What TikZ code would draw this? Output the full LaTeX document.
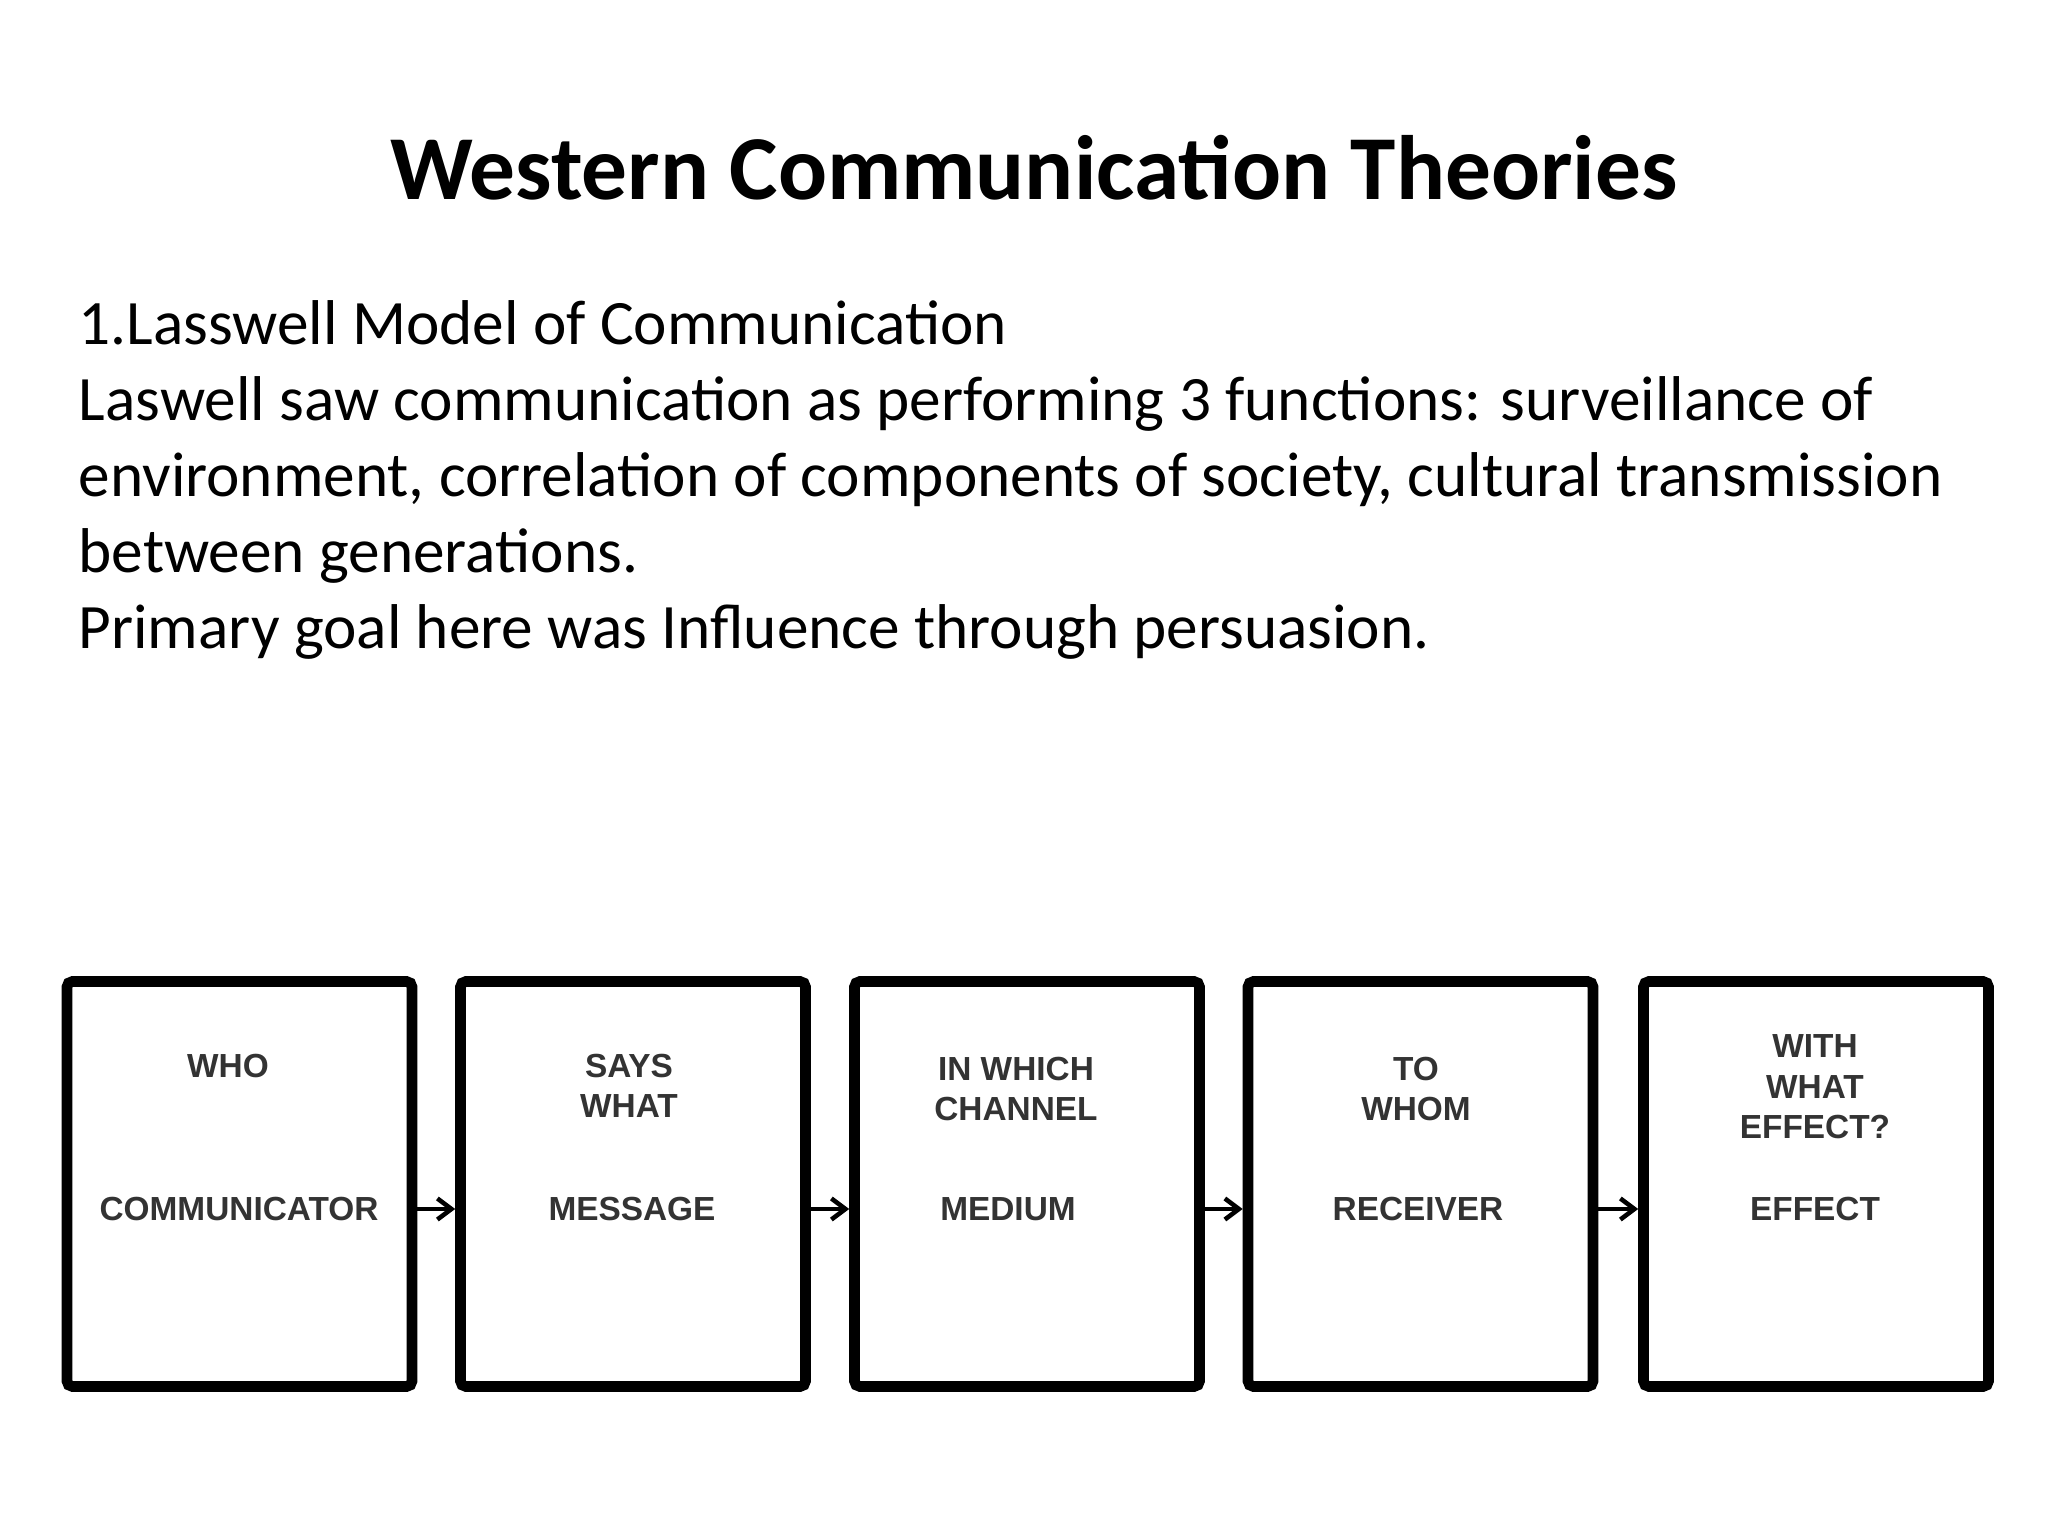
\documentclass[tikz,border=0pt]{standalone}
\usepackage{fontspec}
\setmainfont{Carlito}
\newfontfamily\boxfont{Liberation Sans}
\usetikzlibrary{arrows.meta}
\begin{document}
\begin{tikzpicture}[x=1cm,y=-1cm,
  stage/.style={draw=black,line width=3pt,rounded corners=1.5pt,minimum width=3.45cm,minimum height=4.05cm,inner sep=0pt},
  lbl/.style={font=\boxfont\bfseries\fontsize{9.5}{11.5}\selectfont,text=black!80,align=center},
  flow/.style={line width=1.3pt,-{Straight Barb[length=4pt,width=6pt]}}]
\useasboundingbox (0,0) rectangle (20.48,15.36);
\node (title) at (10.34,1.68) {\bfseries\fontsize{26}{30}\selectfont Western Communication Theories};
\node[anchor=north west,align=left,inner sep=0pt,font=\fontsize{18}{21.6}\selectfont] (body) at (0.78,3.0) {1.Lasswell Model of Communication\\
Laswell saw communication as performing 3 functions: surveillance of\\
environment, correlation of components of society, cultural transmission\\
between generations.\\
Primary goal here was Influence through persuasion.};
\foreach \i/\x in {1/2.395,2/6.33,3/10.27,4/14.205,5/18.16}{
  \node[stage] (b\i) at (\x,11.84) {};
}
\node[lbl] (t1) at (2.28,10.66) {WHO};
\node[lbl] (m1) at (2.39,12.09) {COMMUNICATOR};
\node[lbl] (t2) at (6.29,10.86) {SAYS\\WHAT};
\node[lbl] (m2) at (6.32,12.09) {MESSAGE};
\node[lbl] (t3) at (10.16,10.89) {IN WHICH\\CHANNEL};
\node[lbl] (m3) at (10.08,12.09) {MEDIUM};
\node[lbl] (t4) at (14.16,10.89) {TO\\WHOM};
\node[lbl] (m4) at (14.18,12.09) {RECEIVER};
\node[lbl] (t5) at (18.15,10.87) {WITH\\WHAT\\EFFECT?};
\node[lbl] (m5) at (18.15,12.09) {EFFECT};
\foreach \a/\b in {1/2,2/3,3/4,4/5}{
  \draw[flow] (b\a.east |- m1) -- (b\b.west |- m1);
}
\end{tikzpicture}
\end{document}
